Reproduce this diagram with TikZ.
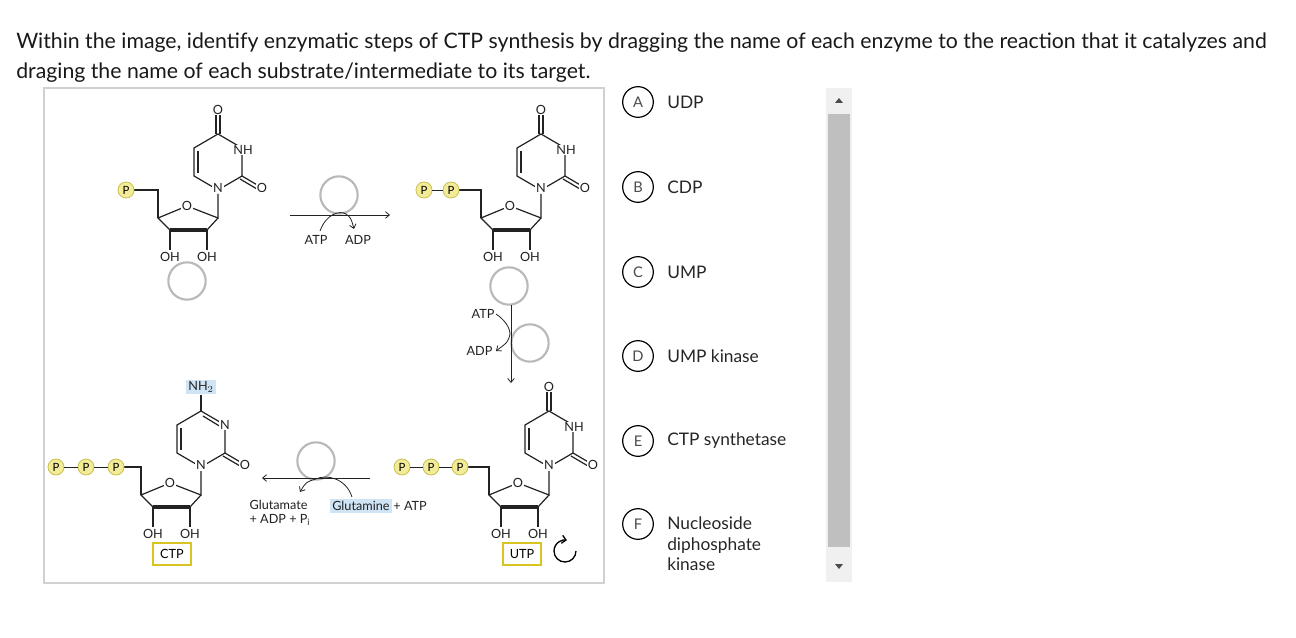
\documentclass[tikz,border=0pt]{standalone}
\usepackage{fontspec}
\setmainfont{Lato}
\setsansfont{Lato}
\usetikzlibrary{arrows.meta}
\definecolor{pfill}{HTML}{F2EC98}
\definecolor{pdraw}{HTML}{C9C050}
\definecolor{ring}{HTML}{B9B9B9}
\definecolor{hl}{HTML}{CFE4F5}
\definecolor{ybox}{HTML}{D9C520}
\definecolor{txt}{HTML}{222222}
\tikzset{
  bond/.style={line width=0.9pt,draw=txt},
  atom/.style={fill=white,inner sep=0.6pt,font=\fontsize{9.5}{10}\selectfont,text=txt},
  phos/.style={circle,fill=pfill,draw=pdraw,line width=0.6pt,inner sep=0pt,minimum size=12pt,font=\fontsize{8.5}{9}\selectfont},
  enz/.style={circle,draw=ring,line width=1.6pt,minimum size=28pt,inner sep=0pt},
  lbl/.style={font=\fontsize{9.5}{10}\selectfont,text=txt,inner sep=1pt},
  choice/.style={circle,draw=black,line width=0.9pt,minimum size=23pt,inner sep=0pt,font=\fontsize{11}{12}\selectfont,text=black!70},
  clab/.style={anchor=west,font=\fontsize{13}{14}\selectfont,text=black!85,inner sep=0pt,align=left},
  arr/.style={line width=0.6pt,draw=txt,-{Straight Barb[length=3pt,width=5pt]}},
  ybx/.style={draw=ybox,line width=1.6pt,minimum width=28pt,minimum height=17pt,inner sep=0pt,font=\fontsize{9.5}{10}\selectfont}
}
\newcommand\mysugar[1]{%
  \draw[bond] (0,4) -- (0,28) -- (-31,16) -- (-60,28) -- (-48,40);
  \draw[line width=3pt,draw=txt] (-48,40) -- (-11,40);
  \draw[bond] (-11,40) -- (0,28);
  \draw[bond] (-48,40) -- (-48,60);
  \draw[bond] (-11,40) -- (-11,60);
  \draw[bond] (-60,28) -- (-60,0) -- (#1,0);
  \node[atom] at (-31,16) {O};
  \node[atom] at (-48,67) {OH};
  \node[atom] at (-11,67) {OH};
}
\newcommand\myuracil{%
  \draw[bond] (0,0) -- (24,-14) -- (24,-42) -- (0,-56) -- (-24,-42) -- (-24,-14) -- cycle;
  \draw[bond] (-20,-39) -- (-20,-17);
  \draw[bond] (-2,-56) -- (-2,-76) (2,-56) -- (2,-76);
  \draw[bond] (24,-14) -- (41,-4) (22,-11) -- (39,-1);
  \node[atom] at (24,-40) {\,NH};
  \node[atom] at (0,-2) {N};
  \node[atom] at (0,-80) {O};
  \node[atom] at (44,-2) {O};
}
\newcommand\mycytosine{%
  \draw[bond] (0,0) -- (24,-14) -- (24,-42) -- (0,-56) -- (-24,-42) -- (-24,-14) -- cycle;
  \draw[bond] (-20,-39) -- (-20,-17);
  \draw[bond] (2,-51) -- (20,-40);
  \draw[bond] (0,-56) -- (0,-72);
  \draw[bond] (24,-14) -- (41,-4) (22,-11) -- (39,-1);
  \node[atom] at (24,-42) {N};
  \node[atom] at (0,-2) {N};
  \node[atom,fill=hl,inner sep=1.5pt] at (0,-80) {NH$_2$};
  \node[atom] at (44,-2) {O};
}
\begin{document}
\begin{tikzpicture}[x=0.75pt,y=-0.75pt]
\useasboundingbox (0,0) rectangle (1296,638);
\fill[white] (0,0) rectangle (1296,638);
\node[anchor=west,inner sep=0pt,font=\fontsize{15.95}{18}\selectfont,text=black!90] (t1) at (16,43) {Within the image, identify enzymatic steps of CTP synthesis by dragging the name of each enzyme to the reaction that it catalyzes and};
\node[anchor=west,inner sep=0pt,font=\fontsize{15.95}{18}\selectfont,text=black!90] (t2) at (16,73) {draging the name of each substrate/intermediate to its target.};
\draw[black!18,line width=0.8pt] (44,88) rectangle (604,583);
\draw[black!18,line width=1.6pt] (44,88) -- (604,88);
\begin{scope}[shift={(218,190)}]
  \myuracil \mysugar{-86}
  \node[phos] (p1) at (-92,0) {P};
\end{scope}
\begin{scope}[shift={(541,190)}]
  \myuracil \mysugar{-84}
  \node[phos] (p2) at (-90,0) {P};
  \node[phos] (p3) at (-117,0) {P};
  \draw[bond,line width=0.6pt] (p3) -- (p2);
\end{scope}
\begin{scope}[shift={(201,467)}]
  \mycytosine \mysugar{-79}
  \node[phos] (q3) at (-85,0) {P};
  \node[phos] (q2) at (-115,0) {P};
  \node[phos] (q1) at (-145,0) {P};
  \draw[bond,line width=0.6pt] (q1) -- (q2) -- (q3);
\end{scope}
\begin{scope}[shift={(549,467)}]
  \myuracil \mysugar{-83}
  \node[phos] (r3) at (-89,0) {P};
  \node[phos] (r2) at (-118,0) {P};
  \node[phos] (r1) at (-147,0) {P};
  \draw[bond,line width=0.6pt] (r1) -- (r2) -- (r3);
\end{scope}
\coordinate (a1s) at (290,215); \coordinate (a1e) at (390,215);
\draw[arr] (a1s) -- (a1e);
\node[enz] (e1) at (339,195) {};
\node[lbl] (atp1) at (316,240) {ATP};
\node[lbl] (adp1) at (358,240) {ADP};
\draw[line width=0.6pt,draw=txt] (320,231) .. controls (326,214) and (340,210) .. (346,214);
\draw[arr] (346,214) .. controls (351,218) .. (354,229);
\node[enz] (e0) at (187,281) {};
\node[enz] (e2) at (509,286) {};
\node[enz] (e3) at (530,343) {};
\coordinate (v1) at (511,305); \coordinate (v2) at (511,383);
\draw[arr] (v1) -- (v2);
\node[lbl,anchor=east] (atp2) at (496,314) {ATP};
\node[lbl,anchor=east] (adp2) at (494,351) {ADP};
\draw[line width=0.6pt,draw=txt] (atp2.east) .. controls (505,320) and (510,328) .. (510,334);
\draw[arr] (510,334) .. controls (508,342) .. (atp2.east |- adp2.east);
\node[enz] (e4) at (316,461) {};
\coordinate (b1) at (370,478); \coordinate (b2) at (262,478);
\draw[arr] (b1) -- (b2);
\node[lbl,anchor=west,fill=hl,inner sep=1.5pt] (gln) at (330,506) {Glutamine};
\node[lbl,anchor=west] (atp3) at (gln.east) {+ ATP};
\node[lbl,anchor=west,align=left] (glu) at (248,513) {Glutamate\\+ ADP + P$_\mathrm{i}$};
\draw[line width=0.6pt,draw=txt] (352,497) .. controls (346,478) and (326,474) .. (316,479);
\draw[arr] (316,479) .. controls (306,482) .. (300,492);
\node[ybx] (ctp) at (172,554) {CTP};
\node[ybx] (utp) at (522,554) {UTP};
\draw[line width=1pt,-{Straight Barb[length=3pt,width=6pt]}] (565,551) ++(0:11) arc (0:280:11);
\foreach \l/\y/\t in {A/102/UDP,B/187/CDP,C/272/UMP,D/356/UMP kinase,E/441/CTP synthetase}{
  \node[choice] (ch\l) at (638,\y) {\l};
  \node[clab] (lb\l) at (667,\y) {\t};
}
\node[choice] (chF) at (638,524) {F};
\node[clab,font=\fontsize{13}{15.5}\selectfont] (lbF) at (667,544) {Nucleoside\\diphosphate\\kinase};
\fill[black!6] (826,88) rectangle (852,582);
\fill[black!25] (828,114) rectangle (850,547);
\fill[black!70] (835,103) -- (843,103) -- (839,98) -- cycle;
\fill[black!70] (835,564) -- (843,564) -- (839,569) -- cycle;
\end{tikzpicture}
\end{document}
